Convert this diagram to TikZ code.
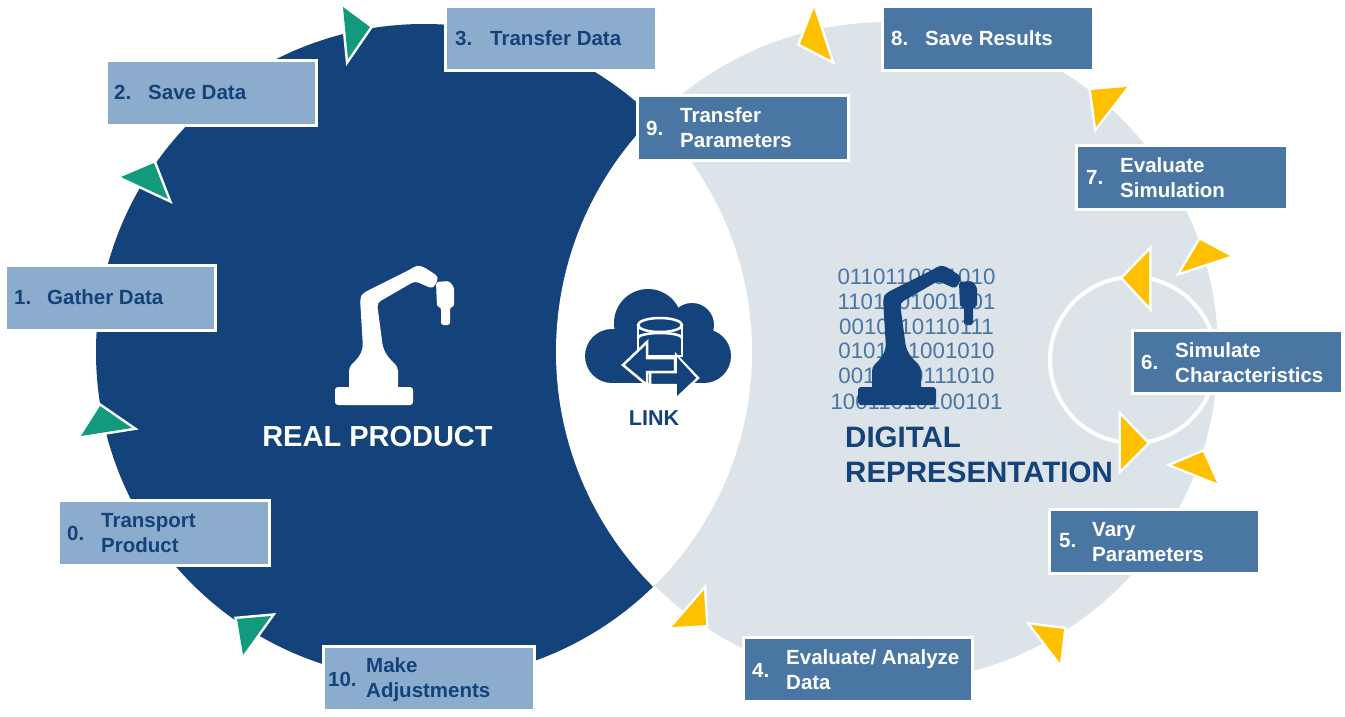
\documentclass[tikz,border=0pt]{standalone}
\usepackage{fontspec}
\setmainfont{Liberation Sans}
\definecolor{navy}{HTML}{14427A}
\definecolor{midblue}{HTML}{4A76A4}
\definecolor{lightblue}{HTML}{8CACCD}
\definecolor{palegrey}{HTML}{DCE3E9}
\definecolor{tealgreen}{HTML}{129A7C}
\definecolor{amber}{HTML}{FFC000}
\tikzset{
  lightbox/.style={draw=none,preaction={draw=white,line width=6pt},fill=lightblue},
  midbox/.style={draw=none,preaction={draw=white,line width=6pt},fill=midblue},
  greentri/.style={draw=none,preaction={draw=white,line width=5pt,line join=miter},fill=tealgreen},
  ambertri/.style={draw=none,preaction={draw=white,line width=5pt,line join=miter},fill=amber},
  darklabel/.style={text=navy,font=\fontsize{20.5}{25}\selectfont\bfseries,anchor=west,inner sep=0pt,align=left},
  whitelabel/.style={text=white,font=\fontsize{20.5}{25}\selectfont\bfseries,anchor=west,inner sep=0pt,align=left},
  headline/.style={text=navy,font=\fontsize{29.5}{36}\selectfont\bfseries,anchor=west,inner sep=0pt},
  bits/.style={text=midblue,font=\fontsize{22.3}{25}\selectfont,inner sep=0pt},
}
\newcommand{\robotshape}[1]{%
  \fill[#1,rounded corners=3pt] (335,387) rectangle (413,405);
  \fill[#1,rounded corners=4pt] (349,392) -- (349,367) -- (359,357) -- (363,348) -- (360,298) -- (363,293) -- (411,269) -- (417,265) -- (424,267) -- (439,277) -- (433,289) -- (415,281) -- (377,303) -- (383,348) -- (388,357) -- (398,367) -- (398,392) -- cycle;
  \fill[#1,rounded corners=2.5pt] (436,282) -- (449,281) -- (454,287) -- (454,307) -- (450,307) -- (450,325) -- (441,325) -- (441,307) -- (437,307) -- cycle;
}
\begin{document}
\begin{tikzpicture}[x=1pt,y=-1pt]
\useasboundingbox (0,0) rectangle (1345,716);
% main circles
\fill[navy] (424,352) circle (328pt);
\fill[palegrey] (888,352) circle (330pt);
\begin{scope}
  \clip (424,352) circle (328pt);
  \fill[white] (888,352) circle (332pt);
\end{scope}
% inner loop
\draw[white,line width=4pt] (1133,360) circle (83pt);
% green triangles
\draw[greentri] (343,7) -- (370,27) -- (348,59) -- cycle;
\draw[greentri] (121,177) -- (154,163) -- (168,199) -- cycle;
\draw[greentri] (81,436) -- (100,406) -- (132,428) -- cycle;
\draw[greentri] (237,619) -- (271,616) -- (243,655) -- cycle;
% amber triangles
\draw[ambertri] (814,8) -- (831,60) -- (800,44) -- cycle;
\draw[ambertri] (1091,90) -- (1127,87) -- (1096,127) -- cycle;
\draw[ambertri] (1200,240) -- (1230,256) -- (1181,272) -- cycle;
\draw[ambertri] (1123,278) -- (1149,251) -- (1149,306) -- cycle;
\draw[ambertri] (1121,416) -- (1147,443) -- (1121,469) -- cycle;
\draw[ambertri] (1172,465) -- (1203,452) -- (1217,483) -- cycle;
\draw[ambertri] (1031,625) -- (1064,629) -- (1060,663) -- cycle;
\draw[ambertri] (672,627) -- (704,590) -- (706,625) -- cycle;
% boxes
\draw[lightbox] (447,8) rectangle (655,69);
\draw[lightbox] (108,62) rectangle (315,124);
\draw[lightbox] (7,267) rectangle (214,329);
\draw[lightbox] (60,502) rectangle (268,564);
\draw[lightbox] (325,648) rectangle (533,709);
\draw[midbox] (745,639) rectangle (971,700);
\draw[midbox] (1051,511) rectangle (1258,572);
\draw[midbox] (1134,332) rectangle (1341,392);
\draw[midbox] (1078,147) rectangle (1286,208);
\draw[midbox] (884,8) rectangle (1092,69);
\draw[midbox] (639,97) rectangle (847,159);
% labels
\node[darklabel] (n3) at (455,38) {3.};
\node[darklabel] (t3) at (490,38) {Transfer Data};
\node[darklabel] (n2) at (114,92) {2.};
\node[darklabel] (t2) at (148,92) {Save Data};
\node[darklabel] (n1) at (14,297) {1.};
\node[darklabel] (t1) at (47,297) {Gather Data};
\node[darklabel] (n0) at (67,533) {0.};
\node[darklabel] (t0) at (101,533.5) {Transport\\Product};
\node[darklabel] (n10) at (328,679) {10.};
\node[darklabel] (t10) at (366,679.5) {Make\\Adjustments};
\node[whitelabel] (n4) at (752,670) {4.};
\node[whitelabel] (t4) at (786,670) {Evaluate/ Analyze\\Data};
\node[whitelabel] (n5) at (1059,541) {5.};
\node[whitelabel] (t5) at (1092,542) {Vary\\Parameters};
\node[whitelabel] (n6) at (1141,362) {6.};
\node[whitelabel] (t6) at (1175,363) {Simulate\\Characteristics};
\node[whitelabel] (n7) at (1086,177) {7.};
\node[whitelabel] (t7) at (1120,178) {Evaluate\\Simulation};
\node[whitelabel] (n8) at (891,38) {8.};
\node[whitelabel] (t8) at (925,38) {Save Results};
\node[whitelabel] (n9) at (646,128) {9.};
\node[whitelabel] (t9) at (680,128) {Transfer\\Parameters};
% real product
\robotshape{white}
\node[text=white,font=\fontsize{29}{35}\selectfont\bfseries,inner sep=0pt] (real) at (377.5,437) {REAL PRODUCT};
% link icon
\fill[navy] (612,356) circle (27pt) (648,323) circle (34pt) (692,325) circle (22pt) (704,356) circle (27pt);
\fill[navy] (612,345) rectangle (704,383);
\fill[navy] (625,330) rectangle (695,360);
\draw[white,line width=2.5pt,fill=navy] (638,325) -- (638,356) -- (682,356) -- (682,325);
\draw[white,line width=2.5pt,fill=navy] (660,325) ellipse (22pt and 7pt);
\draw[white,line width=2.5pt] (638,338) arc[start angle=180,end angle=360,x radius=22pt,y radius=-5pt];
\draw[white,line width=2.5pt,fill=navy,line join=miter] (623,365) -- (647,342) -- (647,358) -- (675,358) -- (675,372) -- (647,372) -- (647,385) -- cycle;
\draw[white,line width=2.5pt,fill=navy,line join=miter] (698,378) -- (676,355) -- (676,372) -- (650,372) -- (650,385) -- (676,385) -- (676,398) -- cycle;
\fill[navy] (677,357) -- (696,378) -- (677,396) -- cycle;
\node[text=navy,font=\fontsize{21.5}{26}\selectfont\bfseries,inner sep=0pt] (link) at (654,418) {LINK};
% digital
\node[bits] (b1) at (916.5,277) {0110110001010};
\node[bits] (b2) at (916.5,302) {1101001001101};
\node[bits] (b3) at (916.5,327) {0010110110111};
\node[bits] (b4) at (916.5,351) {0101111001010};
\node[bits] (b5) at (916.5,376) {0011010111010};
\node[bits] (b6) at (916.5,402) {10011010100101};
\begin{scope}[xshift=523pt]
\robotshape{navy}
\end{scope}
\node[headline] (dig1) at (845,437) {DIGITAL};
\node[headline] (dig2) at (845,472) {REPRESENTATION};
\end{tikzpicture}
\end{document}
